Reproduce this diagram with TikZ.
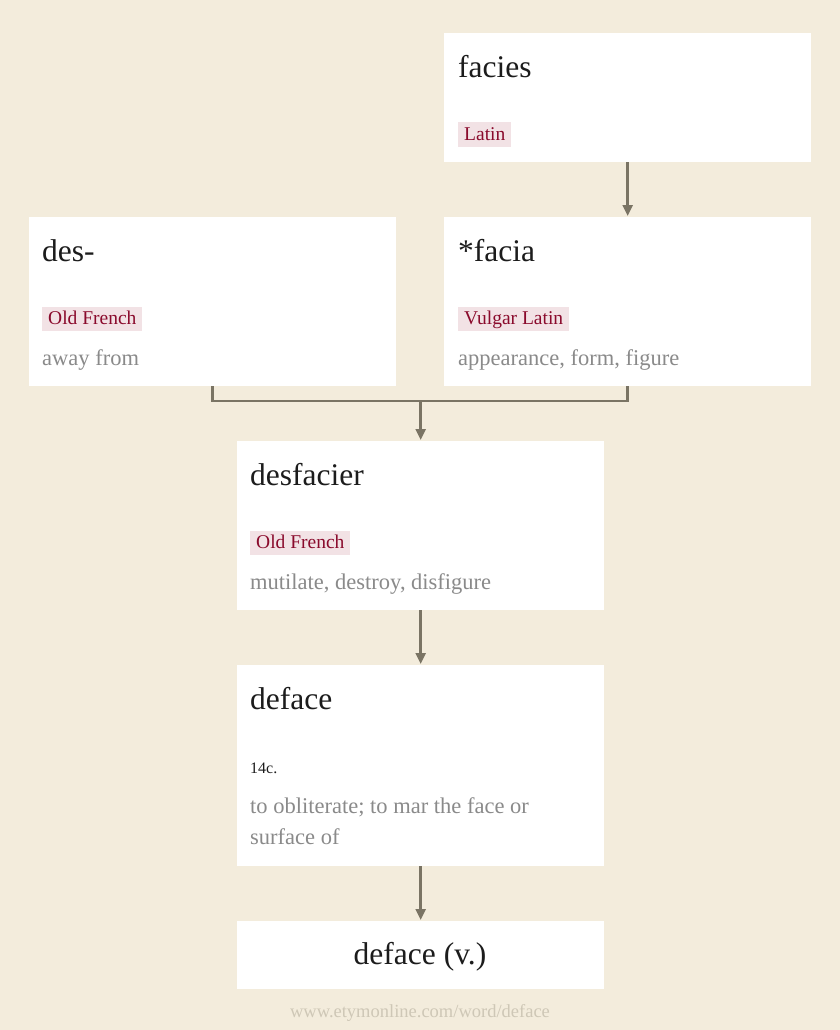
\documentclass[tikz,border=0pt]{standalone}
\usepackage{fontspec}
\setmainfont{Liberation Serif}
\usepackage{tikz}
\usetikzlibrary{arrows.meta,positioning,calc}
\definecolor{paper}{HTML}{F3ECDC}
\definecolor{wordink}{HTML}{1C1C1C}
\definecolor{langink}{HTML}{8A0A2C}
\definecolor{langfill}{HTML}{F2E2E5}
\definecolor{glossink}{HTML}{8A8A8A}
\definecolor{linkink}{HTML}{7A7464}
\definecolor{siteink}{HTML}{CEC7B6}

\begin{document}
\begin{tikzpicture}[x=1pt,y=-1pt,
	card/.style={fill=white, anchor=north west, inner sep=0, minimum width=367, minimum height=#1},
	word/.style={anchor=base west, inner sep=0, text=wordink, font=\fontsize{31.5}{36}\selectfont},
	lang/.style={anchor=base west, fill=langfill, text=langink, inner xsep=6, inner ysep=2.5, text height=15, text depth=4.5, font=\fontsize{19.5}{22}\selectfont},
	gloss/.style={anchor=base west, inner sep=0, text=glossink, font=\fontsize{22.5}{26}\selectfont},
	link/.style={draw=linkink, line width=2.6, -{Triangle[length=11,width=10]}, shorten >=1},
	joint/.style={draw=linkink, line width=2.6}]
	\fill[paper] (0,0) rectangle (840,1030);
	% cards
	\node[card=129] (facies) at (444,33) {};
	\node[card=169] (des) at (29,217) {};
	\node[card=169] (facia) at (444,217) {};
	\node[card=169] (desfacier) at (237,441) {};
	\node[card=201] (deface) at (237,665) {};
	\node[card=68] (defacev) at (237,921) {};
	% texts
	\node[word] (faciesw) at (458,78) {facies};
	\node[lang] (faciesl) at (458,140) {Latin};
	\node[word] (desw) at (42,261) {des-};
	\node[lang] (desl) at (42,324) {Old French};
	\node[gloss] (desg) at (42,365) {away from};
	\node[word] (faciaw) at (458,261) {*facia};
	\node[lang] (facial) at (458,324) {Vulgar Latin};
	\node[gloss] (faciag) at (458,365) {appearance, form, figure};
	\node[word] (desfacierw) at (250,485) {desfacier};
	\node[lang] (desfacierl) at (250,548) {Old French};
	\node[gloss] (desfacierg) at (250,589) {mutilate, destroy, disfigure};
	\node[word] (defacew) at (250,709) {deface};
	\node[anchor=base west, inner sep=0, text=wordink, font=\fontsize{16}{18}\selectfont] (defaced) at (250,773) {14c.};
	\node[gloss] (defaceg) at (250,813) {to obliterate; to mar the face or};
	\node[gloss] (defaceg2) at (250,844) {surface of};
	\node[word, anchor=base] (defacevw) at (420,964) {deface (v.)};
	\node[anchor=base, inner sep=0, text=siteink, font=\fontsize{18.5}{20}\selectfont] (site) at (420,1017) {www.etymonline.com/word/deface};
	% links
	\coordinate (meet) at ($(desfacier.north)+(0,-40)$);
	\draw[link] (facies.south) -- (facia.north);
	\draw[joint] (des.south) |- (meet) -| (facia.south);
	\draw[link] (meet) -- (desfacier.north);
	\draw[link] (desfacier.south) -- (deface.north);
	\draw[link] (deface.south) -- (defacev.north);
\end{tikzpicture}
\end{document}
